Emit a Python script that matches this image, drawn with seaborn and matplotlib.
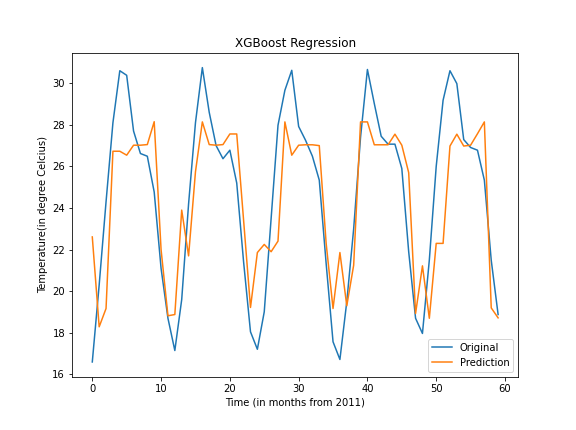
import matplotlib
matplotlib.use("Agg")
import matplotlib.pyplot as plt
import seaborn as sns
import numpy as np

months = list(range(60))
original = [16.6, 20.3, 24.3, 28.1, 30.6, 30.38, 27.7, 26.62, 26.49, 24.77,
            21.1, 18.7, 17.15, 19.6, 24.2, 28.1, 30.75, 28.6, 27.0, 26.37,
            26.78, 25.2, 21.4, 18.05, 17.21, 19.01, 23.5, 27.98, 29.66, 30.62,
            27.92, 27.26, 26.49, 25.34, 21.33, 17.57, 16.72, 19.5, 23.0, 27.4,
            30.66, 29.02, 27.45, 27.07, 27.07, 25.9, 21.9, 18.7, 17.97, 21.5,
            26.0, 29.18, 30.6, 29.98, 27.29, 26.91, 26.78, 25.34, 21.49, 18.88]
prediction = [22.61, 18.29, 19.17, 26.73, 26.73, 26.54, 27.02, 27.02, 27.05, 28.15,
              22.0, 18.82, 18.88, 23.9, 21.7, 25.74, 28.14, 27.05, 27.02, 27.05,
              27.56, 27.56, 23.4, 19.22, 21.86, 22.25, 21.9, 22.41, 28.14, 26.54,
              27.02, 27.04, 27.04, 27.0, 22.3, 19.17, 21.86, 19.3, 21.25, 28.14,
              28.14, 27.04, 27.04, 27.04, 27.55, 27.02, 25.7, 18.93, 21.22, 18.7,
              22.3, 22.3, 26.98, 27.55, 26.98, 27.02, 27.57, 28.14, 19.2, 18.72]

fig, ax = plt.subplots(figsize=(8, 430 / 72), dpi=72)
fig.subplots_adjust(left=0.125, right=0.9, top=0.877, bottom=0.124)
sns.lineplot(x=months, y=original, ax=ax, color="#1f77b4", label="Original", linewidth=1.5)
sns.lineplot(x=months, y=prediction, ax=ax, color="#ff7f0e", label="Prediction", linewidth=1.5)
ax.set_title("XGBoost Regression", fontsize=12)
ax.set_xlabel("Time (in months from 2011)", fontsize=10)
ax.set_ylabel("Temperature(in degree Celcius)", fontsize=10)
ax.legend(loc="lower right", fontsize=10)
fig.savefig("out.png", dpi=72)
